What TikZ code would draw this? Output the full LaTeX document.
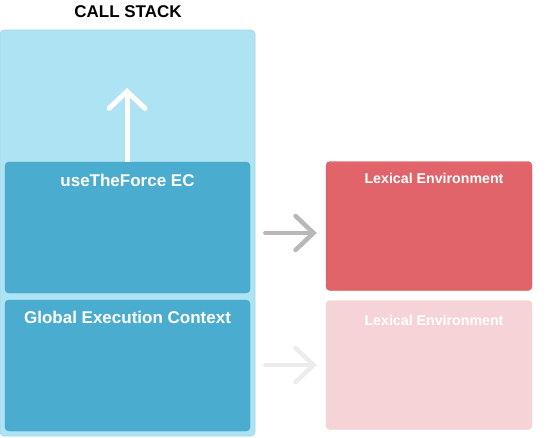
\documentclass[tikz,border=0pt]{standalone}
\usepackage{fontspec}
\setmainfont{Liberation Sans}
\usepackage{xcolor}
\usetikzlibrary{arrows.meta, positioning, calc}

\definecolor{stackblue}{RGB}{173,227,243}
\definecolor{ecblue}{RGB}{74,173,207}
\definecolor{envred}{RGB}{224,100,105}
\definecolor{envpink}{RGB}{246,211,214}
\definecolor{arrowgrey}{RGB}{184,184,184}
\definecolor{arrowfaint}{RGB}{236,236,236}

\begin{document}
\begin{tikzpicture}[
        x=1pt, y=-1pt,
        stackbox/.style={rectangle, rounded corners=4pt, fill=stackblue, draw=stackblue!90!black!60!stackblue, line width=0.6pt, minimum width=255pt, minimum height=406pt, inner sep=0pt},
        ecbox/.style={rectangle, rounded corners=4pt, fill=ecblue, draw=ecblue!90!black, line width=0.4pt, minimum width=245pt, minimum height=131pt, inner sep=0pt},
        envbox/.style={rectangle, rounded corners=4pt, minimum width=206pt, minimum height=129pt, inner sep=0pt},
        boxtitle/.style={font=\bfseries\fontsize{17}{19}\selectfont, text=white, inner sep=0pt},
        envtitle/.style={font=\bfseries\fontsize{14.2}{16}\selectfont, text=white, inner sep=0pt},
        envarrow/.style={line width=4.5pt, line cap=round, -{Straight Barb[length=18pt, width=34pt, line cap=round]}}
    ]
    \useasboundingbox (0,0) rectangle (552,437);

    % Call stack
    \node[font=\bfseries\fontsize{17}{20}\selectfont, inner sep=0pt] (stack_title) at (128,12) {CALL STACK};
    \node[stackbox] (stack) at (127.5,233) {};

    % Execution contexts
    \node[ecbox] (forceEC) at (127.5,227.5) {};
    \node[boxtitle, below=12pt of forceEC.north] (forceEC_title) {useTheForce EC};
    \node[ecbox] (globalEC) at (127.5,365.5) {};
    \node[boxtitle, below=11pt of globalEC.north] (globalEC_title) {Global Execution Context};

    % Push arrow
    \coordinate (push_tip) at (127,88);
    \draw[white, line width=5pt, -{Straight Barb[length=17pt, width=36pt, line cap=round]}] (forceEC.north -| push_tip) -- (push_tip);

    % Lexical environments
    \node[envbox, fill=envred, draw=envred!95!black] (lexEnv) at (429,226) {};
    \node[envtitle, below=12pt of lexEnv.north, xshift=5pt] (lexEnv_title) {Lexical Environment};
    \node[envbox, fill=envpink, draw=envpink] (lexEnvFaded) at (429,365) {};
    \node[envtitle, below=15pt of lexEnvFaded.north, xshift=5pt] (lexEnvFaded_title) {Lexical Environment};

    % Links
    \draw[envarrow, arrowgrey] ($(stack.east |- lexEnv.west)+(10,7)$) -- ([shift={(-9,7)}]lexEnv.west);
    \draw[envarrow, arrowfaint] ($(stack.east |- lexEnvFaded.west)+(10,0)$) -- ([xshift=-9pt]lexEnvFaded.west);

\end{tikzpicture}
\end{document}
